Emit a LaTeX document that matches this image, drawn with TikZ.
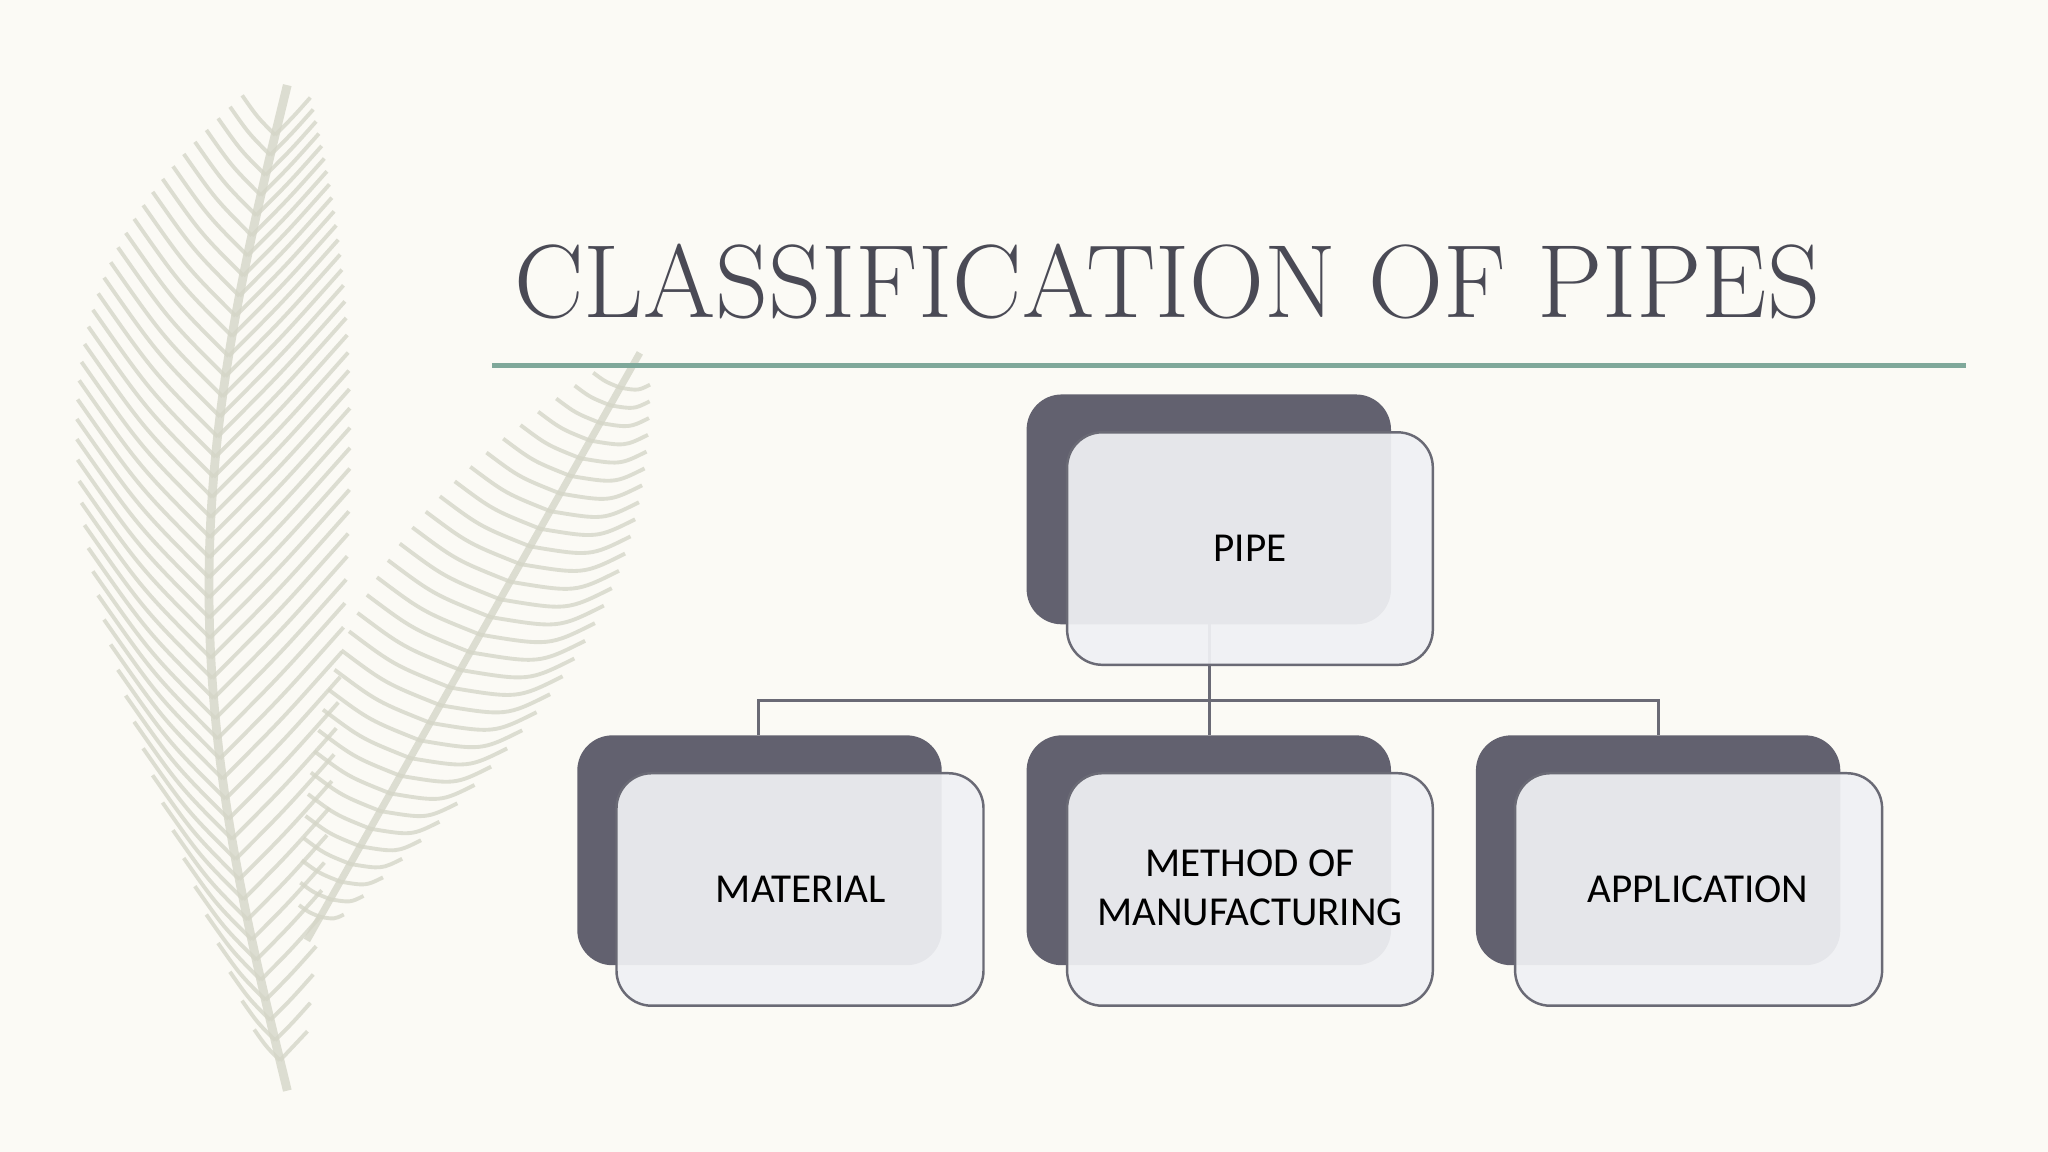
\documentclass[tikz,border=0pt]{standalone}
\usepackage{fontspec}
\newfontfamily\carl{Carlito}
\definecolor{bg}{HTML}{FBFAF5}
\definecolor{dark}{HTML}{62616F}
\definecolor{front}{HTML}{F0F1F4}
\definecolor{edge}{HTML}{6A6A75}
\definecolor{teal}{HTML}{7FA89A}
\definecolor{titlec}{HTML}{4A4A55}
\definecolor{feather}{HTML}{D5D6C8}
\begin{document}
\begin{tikzpicture}[x=0.013061cm,y=-0.013061cm,
  backbox/.style={fill=dark,rounded corners=10pt},
  frontbox/.style={fill=front,fill opacity=0.93,draw=edge,line width=0.7pt,rounded corners=10pt},
  lbl/.style={font=\carl\fontsize{11.7}{14}\selectfont,text=black,align=center},
  conn/.style={draw=edge,line width=0.9pt}]
\fill[bg] (0,0) rectangle (1568,882);
\useasboundingbox (0,0) rectangle (1568,882);
% feathers
\begin{scope}[feather,line width=1.1pt,opacity=0.8]
\draw[line width=2.5pt] plot[domain=0:1,samples=40,smooth] ({220-60*sin(180*\x)},{835-770*\x});
\foreach \t in {0.03,0.05,...,0.97}{
  \pgfmathsetmacro\sx{220-60*sin(180*\t)}
  \pgfmathsetmacro\sy{835-770*\t}
  \pgfmathsetmacro\L{120*sin(180*\t)+15}
  \draw (\sx,\sy) .. controls +(-0.4*\L,-0.4*\L) .. +(-0.75*\L,-0.9*\L);
  \draw (\sx,\sy) .. controls +(0.4*\L,-0.4*\L) .. +(0.8*\L,-0.85*\L);
}
\draw[line width=2pt] plot[domain=0:1,samples=30,smooth] ({235+255*\x},{720-450*\x});
\foreach \t in {0.04,0.07,...,0.97}{
  \pgfmathsetmacro\sx{235+255*\t}
  \pgfmathsetmacro\sy{720-450*\t}
  \pgfmathsetmacro\L{80*sin(180*\t)+8}
  \draw (\sx,\sy) .. controls +(-0.5*\L,-0.2*\L) .. +(-0.9*\L,-0.5*\L);
  \draw (\sx,\sy) .. controls +(0.6*\L,0.1*\L) .. +(1.0*\L,-0.1*\L);
}
\end{scope}
% title
\node[anchor=base west,inner sep=0,text=titlec,font=\fontsize{29.6}{36}\selectfont] (title) at (393,243) {CLASSIFICATION OF PIPES};
\draw[teal,line width=1.5pt] (377,280) coordinate (l1) -- (1505,280) coordinate (l2);
% back boxes
\path[backbox] (786,302) rectangle (1065,478);
\path[backbox] (442,563) rectangle (721,739);
\path[backbox] (786,563) rectangle (1065,739);
\path[backbox] (1130,563) rectangle (1409,739);
% connectors
\coordinate (top) at (926,478);
\coordinate (mid) at (926,536);
\coordinate (bl) at (581,563);
\coordinate (bm) at (926,563);
\coordinate (br) at (1270,563);
\draw[conn] (top) -- (mid) (bl) |- (mid) -| (br) (mid) -- (bm);
% front boxes
\path[frontbox] (817,331) rectangle (1097,509);
\path[frontbox] (472,592) rectangle (753,770);
\path[frontbox] (817,592) rectangle (1097,770);
\path[frontbox] (1160,592) rectangle (1441,770);
\node[lbl] (pipe) at (957,420) {PIPE};
\node[lbl] (mat) at (613,681) {MATERIAL};
\node[lbl] (man) at (957,680) {METHOD OF\\MANUFACTURING};
\node[lbl] (app) at (1300,681) {APPLICATION};
\end{tikzpicture}
\end{document}
